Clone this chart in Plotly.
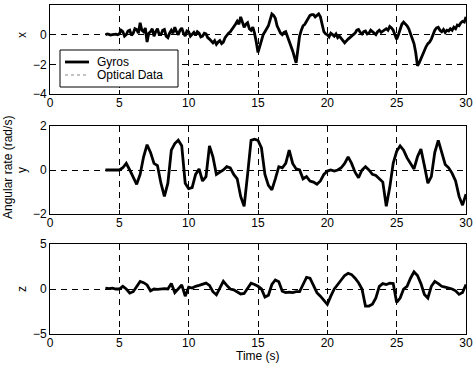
import plotly.graph_objects as go

# time samples (s)
time = [4.0, 4.25, 4.5, 4.75, 5.0, 5.25, 5.5, 5.75, 6.0, 6.25, 6.5, 6.75,
        7.0, 7.25, 7.5, 7.75, 8.0, 8.25, 8.5, 8.75, 9.0, 9.25, 9.5, 9.75,
        10.0, 10.25, 10.5, 10.75, 11.0, 11.25, 11.5, 11.75, 12.0, 12.25, 12.5, 12.75,
        13.0, 13.25, 13.5, 13.75, 14.0, 14.25, 14.5, 14.75, 15.0, 15.25, 15.5, 15.75,
        16.0, 16.25, 16.5, 16.75, 17.0, 17.25, 17.5, 17.75, 18.0, 18.25, 18.5, 18.75,
        19.0, 19.25, 19.5, 19.75, 20.0, 20.25, 20.5, 20.75, 21.0, 21.25, 21.5, 21.75,
        22.0, 22.25, 22.5, 22.75, 23.0, 23.25, 23.5, 23.75, 24.0, 24.25, 24.5, 24.75,
        25.0, 25.25, 25.5, 25.75, 26.0, 26.25, 26.5, 26.75, 27.0, 27.25, 27.5, 27.75,
        28.0, 28.25, 28.5, 28.75, 29.0, 29.25, 29.5, 29.75, 30.0]

# finer time samples for the noisy x channel (s)
time_fine = [4.0, 4.125, 4.25, 4.375, 4.5, 4.625, 4.75, 4.875,
             5.0, 5.125, 5.25, 5.375, 5.5, 5.625, 5.75, 5.875,
             6.0, 6.125, 6.25, 6.375, 6.5, 6.625, 6.75, 6.875,
             7.0, 7.125, 7.25, 7.375, 7.5, 7.625, 7.75, 7.875,
             8.0, 8.125, 8.25, 8.375, 8.5, 8.625, 8.75, 8.875,
             9.0, 9.125, 9.25, 9.375, 9.5, 9.625, 9.75, 9.875,
             10.0, 10.125, 10.25, 10.375, 10.5, 10.625, 10.75, 10.875,
             11.0, 11.125, 11.25, 11.375, 11.5, 11.625, 11.75, 11.875,
             12.0, 12.125, 12.25, 12.375, 12.5, 12.625, 12.75, 12.875,
             13.0, 13.125, 13.25, 13.375, 13.5, 13.625, 13.75, 13.875,
             14.0, 14.125, 14.25, 14.375, 14.5, 14.625, 14.75, 14.875,
             15.0, 15.125, 15.25, 15.375, 15.5, 15.625, 15.75, 15.875,
             16.0, 16.125, 16.25, 16.375, 16.5, 16.625, 16.75, 16.875,
             17.0, 17.125, 17.25, 17.375, 17.5, 17.625, 17.75, 17.875,
             18.0, 18.125, 18.25, 18.375, 18.5, 18.625, 18.75, 18.875,
             19.0, 19.125, 19.25, 19.375, 19.5, 19.625, 19.75, 19.875,
             20.0, 20.125, 20.25, 20.375, 20.5, 20.625, 20.75, 20.875,
             21.0, 21.125, 21.25, 21.375, 21.5, 21.625, 21.75, 21.875,
             22.0, 22.125, 22.25, 22.375, 22.5, 22.625, 22.75, 22.875,
             23.0, 23.125, 23.25, 23.375, 23.5, 23.625, 23.75, 23.875,
             24.0, 24.125, 24.25, 24.375, 24.5, 24.625, 24.75, 24.875,
             25.0, 25.125, 25.25, 25.375, 25.5, 25.625, 25.75, 25.875,
             26.0, 26.125, 26.25, 26.375, 26.5, 26.625, 26.75, 26.875,
             27.0, 27.125, 27.25, 27.375, 27.5, 27.625, 27.75, 27.875,
             28.0, 28.125, 28.25, 28.375, 28.5, 28.625, 28.75, 28.875,
             29.0, 29.125, 29.25, 29.375, 29.5, 29.625, 29.75, 29.875,
             30.0]

gyro_x = [0.0, 0.05, 0.02, -0.03, 0.0, 0.04, 0.03, 0.0,
          0.05, 0.3, 0.2, -0.1, 0.0, 0.25, 0.3, -0.05,
          0.1, 0.4, 0.35, 0.1, 0.8, 0.3, 0.2, 0.45,
          -0.5, 0.1, 0.2, 0.4, -0.1, 0.2, 0.4, 0.0,
          0.0, 0.3, 0.35, -0.1, -0.2, 0.1, 0.3, 0.1,
          0.5, 0.2, 0.0, 0.3, 0.45, 0.1, -0.1, 0.25,
          0.2, -0.1, 0.0, 0.15, -0.05, 0.2, 0.1, -0.15,
          -0.1, 0.1, 0.05, -0.2, -0.3, -0.45, -0.55, -0.4,
          -0.65, -0.5, -0.4, -0.6, -0.5, -0.2, 0.0, 0.1,
          0.2, 0.35, 0.5, 0.7, 0.9, 0.7, 1.2, 0.8,
          0.5, 0.7, 0.8, 0.4, 0.3, 0.5, 0.1, -0.5,
          -1.2, -0.8, -0.4, 0.0, 0.2, 0.45, 0.6, 1.0,
          1.4, 1.3, 1.1, 0.6, 0.3, 0.1, 0.0, 0.15,
          0.2, -0.1, -0.4, -0.7, -1.1, -1.5, -1.9, -1.0,
          -0.1, 0.3, 0.6, 0.7, 0.9, 1.2, 1.3, 1.35,
          1.35, 1.2, 1.3, 1.4, 1.2, 0.7, 0.2, 0.05,
          0.0, -0.15, 0.1, 0.0, -0.1, 0.05, -0.2, -0.1,
          -0.3, -0.4, -0.55, -0.4, -0.3, -0.2, -0.1, 0.0,
          0.1, 0.3, 0.35, 0.15, 0.05, 0.2, 0.25, 0.05,
          0.1, 0.3, 0.2, 0.05, 0.0, 0.2, 0.3, 0.15,
          0.25, 0.35, 0.4, 0.3, 0.55, 0.45, 0.3, 0.0,
          -0.3, 0.0, 0.4, 0.7, 0.85, 0.75, 0.6, 0.4,
          0.1, -0.2, -0.6, -1.2, -2.1, -1.9, -1.6, -1.3,
          -1.0, -0.8, -0.6, -0.5, -0.3, 0.0, 0.3, 0.45,
          0.5, 0.3, 0.2, 0.35, 0.15, 0.3, 0.25, 0.4,
          0.3, 0.5, 0.4, 0.65, 0.6, 0.8, 0.9, 0.85,
          1.2]

gyro_y = [0.0, 0.0, 0.0, 0.0, 0.0, 0.1, 0.3, 0.0, -0.3, -0.65, -0.2, 0.6,
          1.15, 0.8, 0.3, 0.2, -0.6, -1.2, -0.6, 0.9, 1.2, 1.35, 1.1, -0.6,
          -0.85, -0.8, -0.2, 0.05, -0.5, -0.3, 1.1, 0.6, -0.2, -0.1, 0.0, 0.15,
          0.1, -0.2, -0.4, -1.2, -1.65, -0.2, 1.35, 1.4, 1.35, 1.0, -0.2, -0.7,
          -0.9, -0.4, 0.15, 0.1, 0.3, 0.9, 0.3, 0.05, 0.0, -0.4, -0.3, -0.5,
          -0.55, -0.65, -0.5, -0.2, -0.05, 0.0, -0.05, 0.0, 0.1, 0.3, 0.6, 0.3,
          -0.1, -0.35, 0.0, 0.15, 0.0, -0.2, -0.25, -0.4, -0.55, -1.65, -0.8, 0.3,
          0.85, 1.1, 0.9, 0.55, 0.3, 0.05, 0.6, 0.95, 0.2, -0.6, -0.3, 0.8,
          1.35, 0.8, 0.25, 0.1, -0.15, -0.5, -1.2, -1.6, -1.1]

gyro_z = [0.1, 0.05, 0.1, 0.0, 0.0, 0.3, 0.0, -0.45, -0.3, 0.3, 0.85, 0.7,
          0.45, -0.2, 0.0, -0.05, 0.0, 0.05, 0.0, 0.6, -0.4, 0.0, 0.45, -0.8,
          0.2, 0.1, 0.3, 0.4, 0.5, 0.65, 0.4, -0.3, -0.65, 0.2, 0.85, 0.4,
          0.0, -0.1, -0.3, -0.55, -0.5, 0.1, 0.65, 0.5, 0.3, 0.0, -0.9, -0.7,
          0.5, 1.0, 0.8, -0.25, -0.4, -0.35, -0.4, -0.3, -0.3, 0.5, 1.3, 1.2,
          0.3, -0.4, -0.8, -1.3, -1.7, -0.8, 0.0, 0.5, 1.0, 1.5, 1.75, 1.6,
          1.2, 0.7, 0.0, -1.9, -1.9, -1.7, -1.0, 0.3, 0.6, 0.5, 0.65, 0.6,
          -1.5, -1.0, 0.0, 0.3, 1.2, 1.9, 1.5, 0.6, -0.6, -1.0, 0.3, 0.85,
          0.6, 0.3, 0.2, 0.1, 0.0, -0.2, -0.6, -0.4, 0.5]

# optical reference data (overlaps the gyro traces)
optical_x = gyro_x
optical_y = gyro_y
optical_z = gyro_z

axis_names = ["x", "y", "z"]
y_ranges = [[-4, 2], [-2, 2], [-5, 5]]
y_ticks = [[-4, -2, 0, 2], [-2, 0, 2], [-5, 0, 5]]
x_ticks = [0, 5, 10, 15, 20, 25, 30]
legend_labels = ["Gyros", "Optical Data"]

times = [time_fine, time, time]
gyros = [gyro_x, gyro_y, gyro_z]
opticals = [optical_x, optical_y, optical_z]

FONT = "Liberation Sans, Arial, sans-serif"
fig = go.Figure()

for i in range(3):
    ax = "" if i == 0 else str(i + 1)
    fig.add_trace(go.Scatter(
        x=times[i], y=opticals[i], xaxis="x" + ax, yaxis="y" + ax,
        mode="lines", line=dict(color="#888888", width=1, dash="dot"),
        name=legend_labels[1], showlegend=False))
    fig.add_trace(go.Scatter(
        x=times[i], y=gyros[i], xaxis="x" + ax, yaxis="y" + ax,
        mode="lines", line=dict(color="black", width=2.8),
        name=legend_labels[0], showlegend=False))

# pixel layout helpers (plot area: x 50..466, y 5..334)
L, R, T, B = 50, 8, 5, 33
W, H = 474, 367
PW, PH = W - L - R, H - T - B


def px(xp):
    return (xp - L) / PW


def py(yp):
    return (H - B - yp) / PH


domains = [[py(94), 1.0], [py(214), py(126)], [0.0, py(244)]]
layout = dict(
    width=W, height=H,
    margin=dict(l=L, r=R, t=T, b=B, autoexpand=False),
    paper_bgcolor="white", plot_bgcolor="white",
    font=dict(family=FONT, size=12, color="black"),
    showlegend=False,
)
gridspec = dict(showgrid=True, gridcolor="black", gridwidth=1,
                griddash="6px,5px", zeroline=False, showline=True,
                linecolor="black", linewidth=1, mirror=True,
                ticks="inside", ticklen=4, tickcolor="black",
                automargin=False,
                tickfont=dict(family=FONT, size=12, color="black"))
for i in range(3):
    ax = "" if i == 0 else str(i + 1)
    layout["xaxis" + ax] = dict(
        range=[0, 30], tickvals=x_ticks, domain=[0, 1],
        anchor="y" + ax, ticklabelstandoff=-2, **gridspec)
    layout["yaxis" + ax] = dict(
        range=y_ranges[i], tickvals=y_ticks[i], domain=domains[i],
        anchor="x" + ax, **gridspec)
fig.update_layout(**layout)

# axis titles
for name, yp in zip(axis_names, [35, 170, 289]):
    fig.add_annotation(text=name, textangle=-90, xref="paper", yref="paper",
                       x=px(22), y=py(yp), xanchor="center", yanchor="middle",
                       showarrow=False, font=dict(family=FONT, size=12))
fig.add_annotation(text="Angular rate (rad/s)", textangle=-90,
                   xref="paper", yref="paper", x=px(8), y=py(168),
                   xanchor="center", yanchor="middle", showarrow=False,
                   font=dict(family=FONT, size=12))
fig.add_annotation(text="Time (s)", xref="paper", yref="paper",
                   x=px(258), y=py(356), xanchor="center", yanchor="middle",
                   showarrow=False, font=dict(family=FONT, size=12))

# legend box drawn in paper coordinates of the top panel
fig.add_shape(type="rect", xref="paper", yref="paper",
              x0=px(60), x1=px(178), y0=py(87), y1=py(50),
              fillcolor="white", line=dict(color="black", width=1),
              layer="above")
fig.add_shape(type="line", xref="paper", yref="paper",
              x0=px(65), x1=px(89), y0=py(62), y1=py(62),
              line=dict(color="black", width=2.8), layer="above")
fig.add_shape(type="line", xref="paper", yref="paper",
              x0=px(65), x1=px(89), y0=py(75), y1=py(75),
              line=dict(color="#888888", width=1, dash="dot"), layer="above")
for lab, yp in zip(legend_labels, [62, 75]):
    fig.add_annotation(text=lab, xref="paper", yref="paper",
                       x=px(95), y=py(yp), xanchor="left", yanchor="middle",
                       showarrow=False, font=dict(family=FONT, size=12))

fig.write_html("out.html", config={"displayModeBar": False},
               post_script="document.body.style.margin='0px';")
